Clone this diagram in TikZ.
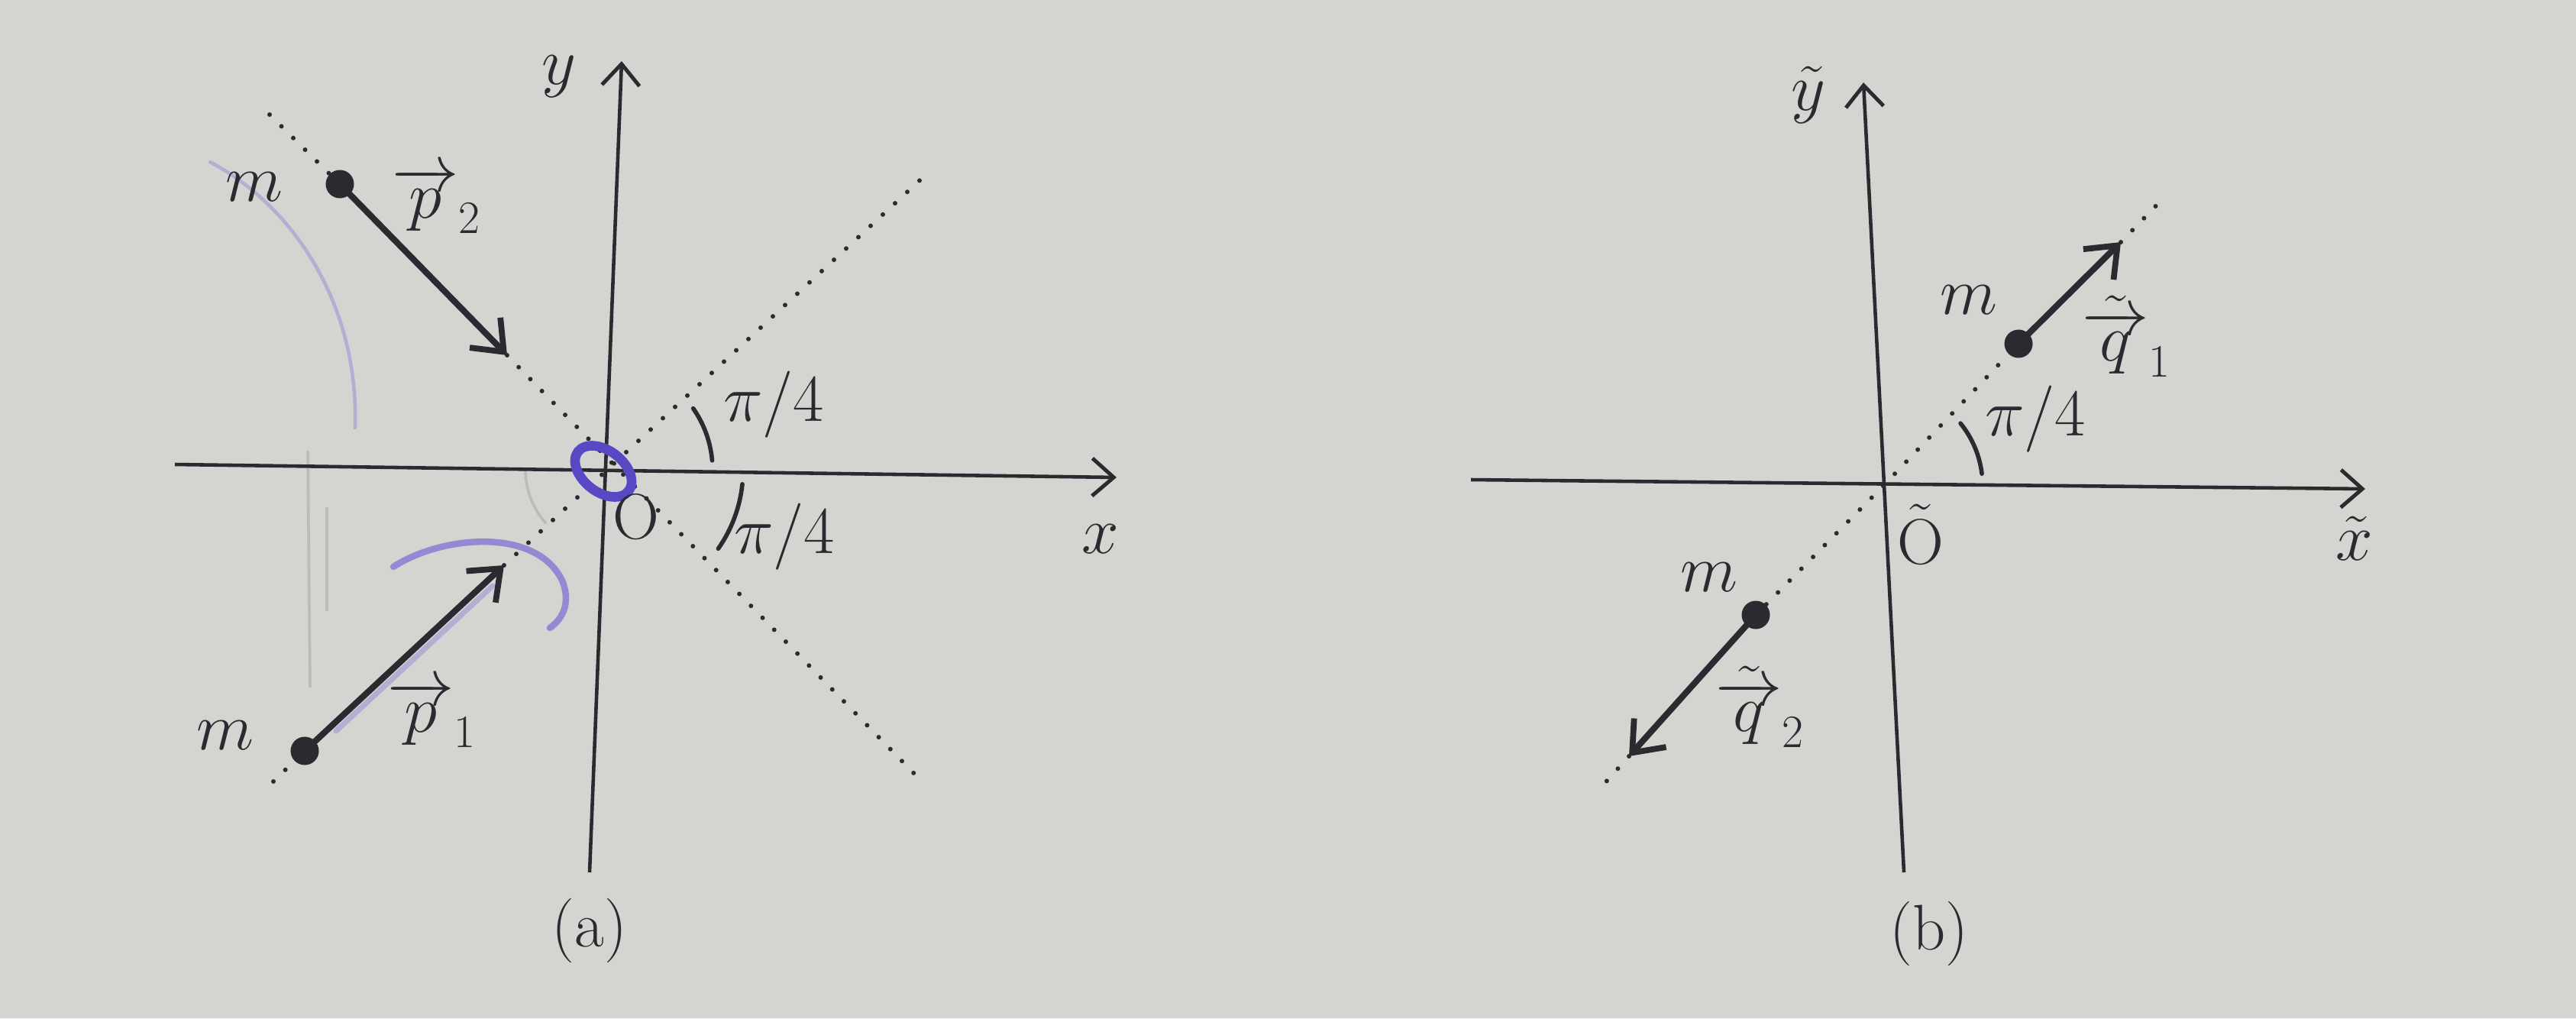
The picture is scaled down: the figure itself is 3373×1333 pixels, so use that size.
\documentclass[tikz,border=0pt]{standalone}
\usepackage{fontspec}
\usetikzlibrary{arrows.meta}
\definecolor{paper}{RGB}{212,212,209}
\definecolor{ink}{RGB}{42,42,48}
\definecolor{bluepen}{RGB}{88,72,196}
\definecolor{bluefaint}{RGB}{140,130,212}
\definecolor{pencil}{RGB}{150,150,150}
\begin{document}
\begin{tikzpicture}[x=0.01cm,y=-0.01cm,
  axis/.style={draw=ink,line width=1.3pt,-{Straight Barb[length=8pt,width=14pt,line width=1.4pt]}},
  dotline/.style={draw=ink,line width=1.7pt,line cap=round,dash pattern=on 0pt off 6.2pt},
  mom/.style={draw=ink,line width=2.3pt,-{Straight Barb[length=10pt,width=16pt,line width=2.2pt]}},
  mass/.style={circle,fill=ink,inner sep=0pt,minimum size=0.37cm},
  lab/.style={text=ink,inner sep=0pt,font=\fontsize{24}{26}\selectfont},
  anglearc/.style={draw=ink,line width=1.6pt,line cap=round},
  pencilmark/.style={draw=pencil,line width=1pt,opacity=0.4},
  bluemark/.style={draw=bluefaint,line width=2pt,line cap=round}]
\fill[paper] (0,0) rectangle (3373,1333);
\useasboundingbox (0,0) rectangle (3373,1333);

% ---------------- panel (a) ----------------
\coordinate (Oa) at (793,615);
\coordinate (ya0) at (772,1142);
\coordinate (ya1) at (814,80);
\coordinate (xa0) at (229,608);
\coordinate (xa1) at (1462,625);
\coordinate (p1tip) at (660,740);
\coordinate (p2tip) at (664,465);
\coordinate (neA) at (1212,229);
\coordinate (swA) at (358,1023);
\coordinate (nwA) at (353,150);
\coordinate (seA) at (1207,1023);

% pencil and blue pen marks
\draw[pencilmark] (403,590) -- (406,900);
\draw[pencilmark] (428,664) -- (428,800);
\draw[pencilmark] (Oa) ++(-180:105) arc[start angle=-180,end angle=-222,radius=105];
\draw[bluemark,opacity=0.45,line width=1.3pt] (275,212) .. controls (385,270) and (470,400) .. (465,560);
\draw[bluemark,opacity=0.45] (440,957) -- (645,767);
\draw[bluemark,line width=2.4pt,opacity=0.9] (515,742) .. controls (580,700) and (705,690) .. (737,762) .. controls (747,790) and (737,810) .. (720,822);

\draw[axis] (xa0) -- (xa1);
\draw[axis] (ya0) -- (ya1);

\node[mass] (m1a) at (399,983) {};
\node[mass] (m2a) at (445,241) {};

\draw[dotline] (swA) -- (m1a);
\draw[dotline] (p1tip) -- (neA);
\draw[dotline] (nwA) -- (m2a);
\draw[dotline] (p2tip) -- (seA);
\draw[mom] (m1a.center) -- (p1tip);
\draw[mom] (m2a.center) -- (p2tip);

\draw[anglearc] (Oa) ++(-5:140) arc[start angle=-5,end angle=-35,radius=140];
\draw[anglearc] (Oa) ++(6:180) arc[start angle=6,end angle=35,radius=180];

\draw[draw=bluepen,line width=3.6pt,rotate around={-38:(790,617)}] (790,617) circle[x radius=42,y radius=27];

\node[lab] (ya) at (732,100) {$y$};
\node[lab] (xa) at (1441,706) {$x$};
\node[lab] (Oal) at (833,677) {O};
\node[lab] (m2l) at (333,245) {$m$};
\node[lab] (m1l) at (295,963) {$m$};
\node[lab] (p2l) at (572,262) {$\overrightarrow{p}_{2}$};
\node[lab] (p1l) at (566,935) {$\overrightarrow{p}_{1}$};
\node[lab] (pia1) at (1013,530) {$\pi/4$};
\node[lab] (pia2) at (1027,703) {$\pi/4$};
\node[lab] (capa) at (772,1218) {(a)};

% ---------------- panel (b) ----------------
\coordinate (Ob) at (2466,636);
\coordinate (yb0) at (2493,1142);
\coordinate (yb1) at (2440,108);
\coordinate (xb0) at (1926,628);
\coordinate (xb1) at (3097,640);
\coordinate (q1tip) at (2777,317);
\coordinate (q2tip) at (2133,990);
\coordinate (neB) at (2836,256);
\coordinate (swB) at (2097,1030);

\draw[axis] (xb0) -- (xb1);
\draw[axis] (yb0) -- (yb1);

\node[mass] (m1b) at (2643,450) {};
\node[mass] (m2b) at (2299,805) {};

\draw[dotline] (Ob) -- (m1b);
\draw[dotline] (Ob) -- (m2b);
\draw[dotline] (q1tip) -- (neB);
\draw[dotline] (q2tip) -- (swB);
\draw[mom] (m1b.center) -- (q1tip);
\draw[mom] (m2b.center) -- (q2tip);

\draw[anglearc] (Ob) ++(-7:130) arc[start angle=-7,end angle=-39,radius=130];

\node[lab] (yb) at (2368,124) {$\tilde{y}$};
\node[lab] (xb) at (3083,705) {$\tilde{x}$};
\node[lab] (Obl) at (2515,700) {$\tilde{\mathrm{O}}$};
\node[lab] (m1bl) at (2578,393) {$m$};
\node[lab] (m2bl) at (2238,756) {$m$};
\node[lab] (q1l) at (2785,440) {$\tilde{\overrightarrow{q}}_{1}$};
\node[lab] (q2l) at (2305,925) {$\tilde{\overrightarrow{q}}_{2}$};
\node[lab] (pib) at (2665,549) {$\pi/4$};
\node[lab] (capb) at (2526,1222) {(b)};
\end{tikzpicture}
\end{document}
